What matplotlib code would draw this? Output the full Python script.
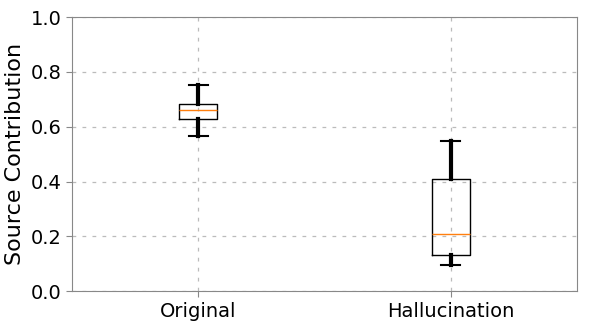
import matplotlib
matplotlib.use("Agg")
import matplotlib.pyplot as plt

labels = ["Original", "Hallucination"]
whislo = [0.568, 0.095]
q1 = [0.630, 0.131]
med = [0.660, 0.210]
q3 = [0.684, 0.410]
whishi = [0.752, 0.549]

stats = []
for i, lab in enumerate(labels):
    stats.append({"label": lab, "whislo": whislo[i], "q1": q1[i], "med": med[i],
                  "q3": q3[i], "whishi": whishi[i], "fliers": []})

fig, ax = plt.subplots(figsize=(5.89, 3.28), dpi=100)
ax.bxp(stats, showfliers=False,
       boxprops=dict(color="black", linewidth=1),
       whiskerprops=dict(color="black", linewidth=3),
       capprops=dict(color="black", linewidth=1.5),
       medianprops=dict(color="#ff7f0e", linewidth=1))

ax.set_ylim(0, 1.0)
ax.set_ylabel("Source Contribution", fontsize=16)
ax.tick_params(axis="both", labelsize=14, color="#888888", length=4)
ax.grid(True, linestyle=(0, (3, 5)), color="#bbbbbb", linewidth=0.9)
ax.set_axisbelow(True)
for s in ax.spines.values():
    s.set_color("#888888")

fig.subplots_adjust(left=0.122, right=0.98, top=0.948, bottom=0.112)
fig.savefig("out.png", dpi=100)
